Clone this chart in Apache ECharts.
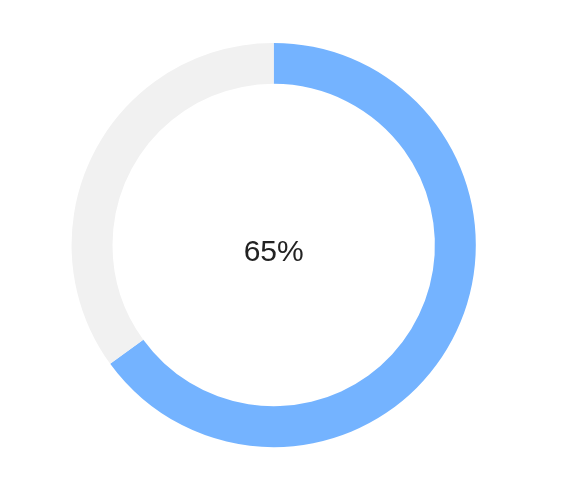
<!DOCTYPE html>
<html>
<head>
<meta charset="utf-8">
<script src="https://cdn.jsdelivr.net/npm/echarts@6/dist/echarts.min.js"></script>
<style>html,body{margin:0;padding:0;background:#fff;}#c{width:562px;height:496px;}</style>
</head>
<body>
<div id="c"></div>
<script>
var categories = ['完成', '未完成'];
var values = [65, 35];
var colors = ['#74b3ff', '#f1f1f1'];

var chart = echarts.init(document.getElementById('c'));
chart.setOption({
  animation: false,
  series: [{
    type: 'pie',
    center: ['48.7%', '49.4%'],
    radius: ['65%', '81.5%'],
    startAngle: 90,
    clockwise: true,
    silent: true,
    avoidLabelOverlap: false,
    labelLine: { show: false },
    data: categories.map(function (c, i) {
      return {
        name: c,
        value: values[i],
        itemStyle: { color: colors[i] },
        label: i === 0 ? {
          show: true,
          position: 'center',
          formatter: function (p) { return p.value + '%'; },
          fontSize: 30,
          fontFamily: 'Liberation Sans, Arial, sans-serif',
          color: '#222',
          offset: [0, 8]
        } : { show: false }
      };
    })
  }]
});
</script>
</body>
</html>
